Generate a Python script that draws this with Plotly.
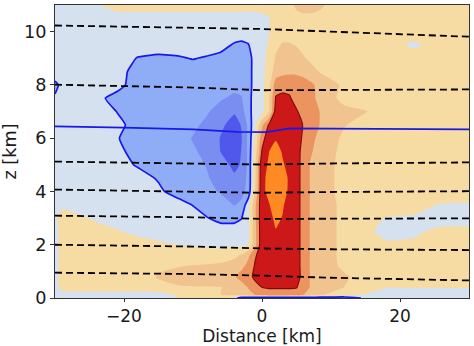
import plotly.graph_objects as go

# ---- grid (km) ----
X_KM = [-30, -29, -27, -24, -21, -18, -15, -12, -10, -8, -6, -4, -3, -2, -1, 0, 1, 2, 3, 4, 5, 6, 7, 8.5, 10, 12, 15, 18, 22, 26, 30]
Z_KM = [0, 0.12, 0.4, 0.8, 1.2, 1.6, 2.0, 2.5, 3.0, 3.5, 4.0, 4.5, 5.0, 5.5, 6.0, 6.5, 7.0, 7.5, 8.0, 8.5, 9.0, 9.5, 10.0, 10.5, 11.0]

# ---- field values (one row per height) ----
FIELD = [
    [-1, -1, -1, -1, -1, -1, -0.8, -0.5, 0, 0.3, 0.3, -1.0, -2.2, -2.2, -2.2, -2.2, -2.2, -2.2, -2.2, -2.2, -2.2, -2.2, -2.2, -2.2, -2.2, -2.2, -1.3, -1, -1, -1, -1],
    [-1, -1, -0.9, -0.9, -0.9, -0.9, -0.9, -0.3, 0, 0.3, 0.5, 0.8, 1.0, 1.2, 1.5, 1.8, 2.0, 2.0, 2.0, 2.0, 1.9, 1.5, 1.0, 0.6, 0.3, 0, -0.6, -1, -1, -1, -1],
    [-1, 0, 0, 0, 0, 0, 0.2, 0.4, 0.45, 0.45, 0.48, 0.7, 1.0, 1.55, 2.2, 2.5, 2.6, 2.6, 2.6, 2.6, 2.55, 2.0, 1.45, 1.1, 0.9, 0.48, 0.2, -0.45, -0.45, -0.45, -0.45],
    [-1, 0, 0, 0, 0, 0, 0.6, 1.0, 1.0, 1.0, 1.1, 1.4, 1.9, 2.2, 2.7, 3.0, 3.0, 3.0, 3.0, 3.0, 2.9, 2.15, 1.45, 1.2, 1.0, 0.6, 0.2, 0, 0, 0, 0],
    [-1, 0, 0, 0, 0, 0, 0.3, 0.45, 0.55, 0.6, 0.7, 0.9, 1.2, 1.8, 2.6, 3.0, 3.0, 3.0, 3.0, 3.0, 2.85, 2.15, 1.45, 1.2, 0.7, 0.3, 0, 0, 0, 0, 0],
    [-1, 0, 0, 0, 0, 0, 0, 0, 0, 0, 0, 0.3, 0.6, 1.3, 2.4, 2.9, 3.0, 3.0, 3.0, 3.0, 2.85, 2.15, 1.45, 1.1, 0.7, 0.2, 0, 0, 0, 0, 0],
    [-1, 0, 0, 0, 0, 0, -0.3, -0.52, -0.6, -0.7, -0.8, -0.7, -0.8, -0.52, 1.2, 3.2, 3.0, 3.2, 3.0, 3.0, 2.85, 2.15, 1.45, 1.1, 0.7, 0.2, 0, -0.3, -0.3, 0, 0],
    [-1, 0, 0, 0, -0.4, -0.8, -1, -1, -1, -1, -1, -1, -1, -0.8, 1.2, 3.2, 3.0, 3.45, 3.0, 3.0, 2.85, 2.15, 1.45, 1.1, 0.7, 0.2, -0.2, -0.9, -0.7, -0.2, -0.2],
    [-1, 0.45, -0.2, -0.7, -1, -1, -1, -1, -1, -1.45, -1.8, -1.8, -1.55, -0.9, 1.3, 3.2, 3.2, 3.7, 3.45, 3.0, 2.85, 2.15, 1.45, 1.1, 0.7, 0.2, -0.1, -0.55, -0.6, -1.0, -1.0],
    [-1, -1, -1, -1, -1, -1, -1, -1.1, -1.55, -2.0, -2.0, -2.55, -2.3, -0.9, 1.3, 3.2, 3.45, 3.9, 3.6, 3.1, 2.85, 2.15, 1.45, 1.1, 0.7, 0.2, 0, 0, -0.2, -0.55, -0.6],
    [-1, -1, -1, -1, -1, -1, -1.3, -2.0, -2.0, -2.2, -2.6, -3.0, -2.8, -2.2, 0.5, 3.3, 3.7, 4.1, 3.9, 3.3, 2.85, 2.15, 1.45, 1.1, 0.6, 0.2, 0, 0, 0, 0, 0],
    [-1, -1, -1, -1, -1, -1.1, -1.6, -2.0, -2.1, -2.4, -2.9, -3.3, -3.0, -2.3, 0.3, 3.3, 3.7, 4.2, 4.0, 3.3, 2.85, 2.15, 1.45, 1.1, 0.6, 0.2, 0, 0, 0, 0, 0],
    [-1, -1, -1, -1, -1.1, -1.6, -1.9, -2.0, -2.2, -2.55, -3.0, -3.8, -3.4, -2.3, 0.3, 3.2, 3.6, 4.1, 3.6, 3.2, 2.85, 2.15, 1.45, 1.1, 0.6, 0.2, 0, 0, 0, 0, 0],
    [-1, -1, -1, -1, -1.3, -1.8, -2.0, -2.1, -2.4, -2.7, -3.52, -4.0, -3.48, -2.3, 0.0, 2.6, 3.48, 3.9, 3.4, 3.1, 2.9, 2.15, 1.6, 1.15, 0.7, 0.2, 0, 0, 0, 0, 0],
    [-1, -1, -1, -1, -1.45, -1.9, -2.0, -2.2, -2.55, -2.8, -3.55, -4.1, -3.6, -2.3, -0.3, 2.1, 3.1, 3.4, 3.2, 3.0, 2.9, 2.35, 1.7, 1.3, 0.8, 0.3, 0, 0, 0, 0, 0],
    [-1, -1, -1, -1, -1.3, -1.8, -2.0, -2.1, -2.3, -2.7, -3.3, -3.9, -3.45, -2.3, -0.6, 1.3, 2.6, 3.1, 3.1, 3.0, 2.9, 2.45, 1.9, 1.45, 0.9, 0.55, 0.1, 0, 0, 0, 0],
    [-1, -1, -1, -1, -1.52, -1.9, -2.0, -2.1, -2.2, -2.4, -2.9, -3.4, -3.0, -1.8, -1.1, -0.8, 0.3, 3.0, 3.1, 2.9, 2.6, 2.1, 1.9, 1.45, 0.9, 0.75, 0.55, 0, 0, 0, 0],
    [-1.4, -1, -1, -1.35, -1.7, -2.0, -2.0, -2.0, -2.1, -2.2, -2.4, -2.7, -2.6, -1.8, -1.1, -0.8, 0.4, 2.6, 2.7, 2.6, 2.1, 1.9, 1.7, 1.3, 0.7, 0.2, 0, 0, 0, 0, 0],
    [-1.7, -1.3, -1, -1, -1.3, -1.8, -2.0, -2.0, -2.0, -2.0, -2.1, -2.2, -2.1, -1.8, -1.2, -0.8, 0.2, 2.0, 2.2, 2.2, 2.1, 1.9, 1.7, 1.2, 0.8, 0.3, 0, 0, 0, 0, 0],
    [-1, -1, -1, -1, -1.2, -1.8, -2.0, -2.0, -2.0, -2.0, -2.0, -2.0, -2.0, -1.8, -1.2, -0.8, -0.1, 1.0, 1.2, 1.3, 1.3, 1.2, 0.9, 0.4, 0.1, 0, 0, 0, 0, 0, 0],
    [-1, -1, -1, -1, -1.0, -1.55, -1.7, -1.6, -1.45, -1.6, -1.75, -1.95, -2.0, -1.8, -1.2, -0.8, -0.2, 0.6, 0.9, 0.9, 0.85, 0.6, 0.3, 0, 0, 0, 0, 0, 0, 0, 0],
    [-1, -1, -1, -1, -1, -1, -1, -1, -1, -1, -1.2, -1.6, -1.7, -1.55, -1.1, -0.8, -0.4, 0.3, 0.6, 0.6, 0.45, 0.2, 0, 0, 0, 0, 0, 0, -0.7, 0, 0],
    [-1, -1, -1, -1, -1, -1, -1, -1, -1, -1, -1, -1, -1, -1, -1, -0.8, -0.55, 0, 0, 0, 0, 0, 0, 0, 0, 0, 0, 0, 0, 0, 0],
    [-1, -1, -1, -1, -1, -1, -1, -1, -1, -1, -1, -1, -1, -1, -1, -0.8, -0.55, 0, 0, 0.1, 0.2, 0.2, 0.2, 0.15, 0, 0, 0, 0, 0, 0, 0],
    [-1, -1, -1, -0.6, 0, 0, 0, 0, 0, 0, 0, 0, 0, 0, 0, 0, 0, 0, 0, 0.2, 0.7, 1.0, 1.0, 0.7, 0.2, 0, 0, 0, 0, 0, 0],
]

# ---- dashed isolines (km) ----
LINE_X = [-30, -10, 0, 10, 30]
DASHED_LINES = [
    [0.95, 0.90, 0.84, 0.76, 0.66],
    [2.00, 1.93, 1.86, 1.83, 1.80],
    [3.09, 3.03, 2.97, 2.98, 2.99],
    [4.07, 4.00, 3.95, 3.98, 4.01],
    [5.12, 5.06, 5.01, 5.05, 5.09],
    [8.01, 7.90, 7.80, 7.81, 7.83],
    [10.23, 10.15, 10.10, 10.00, 9.81],
]

# ---- solid blue line ----
BLUE_X = [-30, -20, -10, -3.6, 0.7, 4, 10, 20, 30]
BLUE_Z = [6.44, 6.40, 6.33, 6.24, 6.23, 6.37, 6.36, 6.34, 6.33]

BAND_COLORS = ["#5058ec", "#5058ec", "#7a8ef2", "#8fadf6", "#d5e1ee", "#f6dca2",
               "#f1c38f", "#ec9460", "#cc1818", "#fd8a22", "#fd8a22"]
colorscale = [[i / 10, c] for i, c in enumerate(BAND_COLORS)]

SMOOTH = 0.45
fig = go.Figure()
fig.add_trace(go.Contour(
    x=X_KM, y=Z_KM, z=FIELD, autocontour=False,
    contours=dict(start=-4.5, end=4.5, size=1, coloring="fill", showlines=False),
    colorscale=colorscale, showscale=False,
    line=dict(width=0, smoothing=SMOOTH), hoverinfo="skip"))
fig.add_trace(go.Contour(
    x=X_KM, y=Z_KM, z=FIELD, autocontour=False,
    contours=dict(start=-1.5, end=-1.5, size=1, coloring="none"),
    line=dict(color="#1818e8", width=1.7, smoothing=SMOOTH),
    showscale=False, hoverinfo="skip"))
fig.add_trace(go.Contour(
    x=X_KM, y=Z_KM, z=FIELD, autocontour=False,
    contours=dict(start=2.5, end=2.5, size=1, coloring="none"),
    line=dict(color="#7a0a0a", width=1.1, smoothing=SMOOTH),
    showscale=False, hoverinfo="skip"))

for zline in DASHED_LINES:
    fig.add_trace(go.Scatter(x=LINE_X, y=zline, mode="lines",
                             line=dict(color="black", width=1.8, dash="7px,4px"),
                             showlegend=False, hoverinfo="skip"))
fig.add_trace(go.Scatter(x=BLUE_X, y=BLUE_Z, mode="lines",
                         line=dict(color="#1818e8", width=1.7),
                         showlegend=False, hoverinfo="skip"))

FONT = dict(family="DejaVu Sans", size=17, color="#1a1a1a")
fig.update_layout(
    width=474, height=346,
    margin=dict(l=55, r=5, t=5, b=48),
    paper_bgcolor="white", plot_bgcolor="white",
    font=FONT, showlegend=False,
    xaxis=dict(range=[-30, 30], tickvals=[-20, 0, 20], ticks="outside", ticklen=3,
               tickwidth=1, tickcolor="#333", showline=True, linecolor="#333",
               linewidth=1, mirror=True, showgrid=False, zeroline=False,
               automargin=False, tickfont=FONT,
               title=dict(text="Distance [km]", font=FONT, standoff=0)),
    yaxis=dict(range=[0, 11], tickvals=[0, 2, 4, 6, 8, 10], ticks="outside", ticklen=4,
               tickwidth=1, tickcolor="#333", showline=True, linecolor="#333",
               linewidth=1, mirror=True, showgrid=False, zeroline=False,
               automargin=False, tickfont=dict(family="DejaVu Sans", size=17.7, color="#1a1a1a"),
               title=dict(text="z [km]", font=dict(family="DejaVu Sans", size=17.7, color="#1a1a1a"), standoff=4)),
)
fig.write_html("out.html")
